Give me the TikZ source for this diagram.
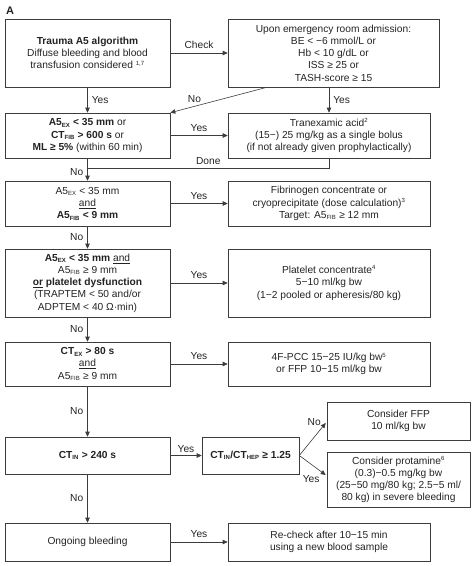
\documentclass[tikz,border=0pt]{standalone}
\usepackage{fontspec}
\setmainfont{Liberation Sans}
\usetikzlibrary{arrows.meta,calc}

\definecolor{linegray}{RGB}{60,60,60}
\definecolor{textgray}{RGB}{35,35,35}
\newcommand{\lowtx}[1]{\textsubscript{\fontsize{6}{6}\selectfont #1}}
\newcommand{\uptx}[1]{\textsuperscript{\fontsize{6}{6}\selectfont #1}}

\tikzset{
  box/.style={draw=linegray, line width=0.6pt, align=center, inner sep=1pt,
    text=textgray, font=\fontsize{10.2}{12.2}\selectfont},
  lbox/.style={box, minimum width=165pt},
  rbox/.style={box, minimum width=202pt},
  arr/.style={draw=linegray, line width=0.6pt, -{Triangle[length=5pt,width=4.5pt]}},
  lin/.style={draw=linegray, line width=0.6pt},
  lab/.style={text=textgray, font=\fontsize{10.2}{12.2}\selectfont, inner sep=0pt}
}

\begin{document}
\begin{tikzpicture}[x=1pt,y=-1pt]
\useasboundingbox (0,0) rectangle (474,566);

\node[lab, font=\bfseries\fontsize{11}{12}\selectfont] (panel) at (10,11) {A};

% top row
\node[lbox, minimum height=68pt] (trauma) at (87.5,53)
  {\textbf{Trauma A5 algorithm}\\Diffuse bleeding and blood\\transfusion considered \uptx{1,7}};
\node[box, minimum width=211pt, minimum height=68pt] (admit) at (333.5,53)
  {Upon emergency room admission:\\BE < −6 mmol/L or\\Hb < 10 g/dL or\\ISS ≥ 25 or\\TASH-score ≥ 15};

% hyperfibrinolysis
\node[lbox, minimum height=45pt] (fibrinolysis) at (87.5,135.5)
  {\textbf{A5\lowtx{EX} < 35 mm} or\\\textbf{CT\lowtx{FIB} > 600 s} or\\\textbf{ML ≥ 5\%} (within 60 min)};
\node[rbox, minimum height=45pt] (txa) at (329,135.5)
  {Tranexamic acid\uptx{2}\\(15−) 25 mg/kg as a single bolus\\(if not already given prophylactically)};

% fibrinogen
\node[lbox, minimum height=45pt] (fibcheck) at (87.5,203.5)
  {A5\lowtx{EX} < 35 mm\\\underline{and}\\\textbf{A5\lowtx{FIB} < 9 mm}};
\node[rbox, minimum height=45pt] (fibrinogen) at (329,203.5)
  {Fibrinogen concentrate or\\cryoprecipitate (dose calculation)\uptx{3}\\Target: A5\lowtx{FIB} ≥ 12 mm};

% platelets
\node[lbox, minimum height=68pt] (pltcheck) at (87.5,283)
  {\textbf{A5\lowtx{EX} < 35 mm} \underline{and}\\A5\lowtx{FIB} ≥ 9 mm\\\textbf{\underline{or} platelet dysfunction}\\(TRAPTEM < 50 and/or\\ADPTEM < 40 Ω·min)};
\node[rbox, minimum height=68pt] (platelet) at (329,283)
  {Platelet concentrate\uptx{4}\\5−10 ml/kg bw\\(1−2 pooled or apheresis/80 kg)};

% coagulation factors
\node[lbox, minimum height=44pt] (ctcheck) at (87.5,364)
  {\textbf{CT\lowtx{EX} > 80 s}\\\underline{and}\\A5\lowtx{FIB} ≥ 9 mm};
\node[rbox, minimum height=44pt] (pcc) at (329,364)
  {4F-PCC 15−25 IU/kg bw\uptx{5}\\or FFP 10−15 ml/kg bw};

% heparin
\node[lbox, minimum height=37pt] (ctin) at (87.5,455.5) {\textbf{CT\lowtx{IN} > 240 s}};
\node[box, minimum width=97pt, minimum height=37pt] (ratio) at (250.5,455.5)
  {\textbf{CT\lowtx{IN}/CT\lowtx{HEP} ≥ 1.25}};
\node[box, minimum width=143pt, minimum height=38pt] (ffp) at (398.5,421)
  {Consider FFP\\10 ml/kg bw};
\node[box, minimum width=143pt, minimum height=55pt] (protamine) at (398.5,479.5)
  {Consider protamine\uptx{6}\\(0.3)−0.5 mg/kg bw\\(25−50 mg/80 kg; 2.5−5 ml/\\80 kg) in severe bleeding};

% ongoing bleeding
\node[lbox, minimum height=38pt] (ongoing) at (87.5,542) {Ongoing bleeding};
\node[rbox, minimum height=38pt] (recheck) at (329,542)
  {Re-check after 10−15 min\\using a new blood sample};

% connectors
\draw[arr] (trauma) -- (admit) node[lab, midway, above=4pt] {Check};
\draw[arr] (trauma.south) -- (fibrinolysis.north) node[lab, midway, right=4pt] {Yes};
\draw[arr] ($(admit.south west)!0.185!(admit.south east)$) -- (fibrinolysis.north east)
  node[lab, pos=0.75, above=3pt] {No};
\draw[arr] (admit.south -| txa.north) -- (txa.north) node[lab, midway, right=4pt] {Yes};
\draw[arr] (fibrinolysis) -- (txa) node[lab, midway, above=4pt] {Yes};

\coordinate (donejoin) at (87.5,168);
\draw[lin] (txa.south) |- (donejoin) node[lab, pos=0.75, above=3pt] {Done};
\draw[arr] (fibrinolysis.south) -- (fibcheck.north) node[lab, pos=0.6, left=4pt] {No};

\draw[arr] (fibcheck) -- (fibrinogen) node[lab, midway, above=4pt] {Yes};
\draw[arr] (fibcheck.south) -- (pltcheck.north) node[lab, midway, left=4pt] {No};
\draw[arr] (pltcheck) -- (platelet) node[lab, midway, above=4pt] {Yes};
\draw[arr] (pltcheck.south) -- (ctcheck.north) node[lab, midway, left=4pt] {No};
\draw[arr] (ctcheck) -- (pcc) node[lab, midway, above=4pt] {Yes};
\draw[arr] (ctcheck.south) -- (ctin.north) node[lab, midway, left=4pt] {No};

\draw[arr] (ctin) -- (ratio) node[lab, midway, above=3pt] {Yes};
\draw[arr] (ratio.east) -- ($(ffp.west)+(-1,2)$)
  node[lab, pos=0.9, anchor=south east, xshift=-2pt] {No};
\draw[arr] (ratio.east) -- ($(protamine.west)+(-1,-4.5)$)
  node[lab, pos=0.7, anchor=north east, xshift=2pt, yshift=-6pt] {Yes};

\draw[arr] (ctin.south) -- (ongoing.north) node[lab, midway, left=4pt] {No};
\draw[arr] (ongoing) -- (recheck) node[lab, midway, above=4pt] {Yes};
\end{tikzpicture}
\end{document}
